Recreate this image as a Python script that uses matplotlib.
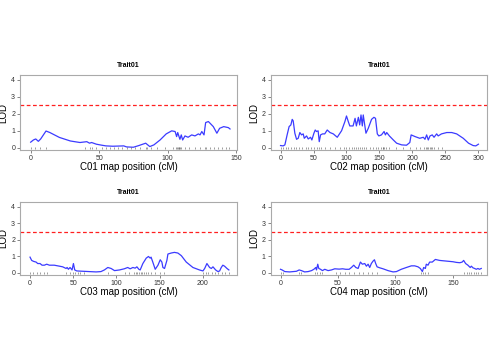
import numpy as np
import matplotlib
matplotlib.use("Agg")
import matplotlib.pyplot as plt
import matplotlib.transforms as mtransforms

plt.rcParams['font.family'] = ['Liberation Sans', 'DejaVu Sans']

threshold = 2.5
trait = "Trait01"

# C01
c01_pos = [0, 2, 3.7, 5.6, 7.3, 11.2, 14, 21, 29, 36, 41, 43, 44.5, 48, 52, 55, 60, 68, 70, 75, 79,
           84, 87, 90, 94.5, 99, 103, 105.5, 106.6, 107.4, 109, 110, 111, 112.7, 115, 117.6, 120,
           122.5, 123.7, 125, 126.6, 127.8, 129.8, 131.5, 133.4, 136, 138, 141, 144.4, 145.6]
c01_lod = [0.32, 0.45, 0.51, 0.37, 0.51, 0.98, 0.89, 0.6, 0.39, 0.3, 0.35, 0.26, 0.3, 0.2, 0.14, 0.1,
           0.08, 0.1, 0.04, 0.02, 0.12, 0.26, 0.06, 0.16, 0.45, 0.81, 0.99, 0.95, 0.65, 0.89, 0.49,
           0.75, 0.45, 0.69, 0.61, 0.75, 0.69, 0.81, 0.75, 0.95, 0.75, 1.48, 1.54, 1.4, 1.24, 0.85,
           1.14, 1.24, 1.18, 1.1]
c01_markers = [0, 3, 7, 11, 40, 43, 45, 48, 52, 55, 58, 61, 64, 67, 70, 73, 76, 80, 84, 85, 88, 92,
               98, 104, 106, 107, 107.5, 108, 108.5, 109, 110, 113, 116, 120, 124, 127, 128, 131,
               134, 137, 140, 143, 145]

# C02
c02_pos = [0, 4, 6.6, 10, 13, 15.7, 17.7, 19.2, 21.7, 24.3, 26.8, 29.3, 31.9, 34.4, 36, 39.5, 42,
           45.5, 47.5, 50.6, 52.6, 54.6, 57, 58.7, 60.7, 63.7, 67, 70.8, 75, 80, 86, 92.6, 97.6,
           100, 102.7, 105, 110, 113, 115, 118, 120, 122, 124, 125.4, 128, 129.5, 133, 138, 141.6,
           144, 146.7, 149, 153, 157, 159, 161, 165, 171, 176, 183.6, 191, 196, 198, 204, 211,
           216.5, 219, 221.5, 224, 226.6, 230, 232.7, 236.7, 239, 244, 252, 259.5, 267, 277, 285,
           292, 296, 300]
c02_lod = [0.12, 0.1, 0.16, 0.75, 1.24, 1.34, 1.67, 1.58, 0.85, 0.49, 0.55, 0.89, 0.75, 0.81, 0.55,
           0.69, 0.51, 0.61, 0.45, 0.85, 1.04, 0.95, 0.99, 0.35, 0.75, 0.81, 0.81, 1.04, 0.89, 0.81,
           0.61, 1.0, 1.54, 1.87, 1.54, 1.28, 1.28, 1.73, 1.28, 1.79, 1.34, 1.93, 1.28, 1.93, 1.24,
           0.85, 1.14, 1.67, 1.79, 1.73, 0.81, 0.69, 0.75, 0.95, 0.75, 0.89, 0.69, 0.45, 0.26, 0.16,
           0.14, 0.3, 0.75, 0.65, 0.55, 0.61, 0.49, 0.75, 0.45, 0.69, 0.75, 0.61, 0.81, 0.69, 0.81,
           0.89, 0.89, 0.81, 0.55, 0.26, 0.12, 0.1, 0.2]
c02_markers = [0, 4, 8, 12, 16, 20, 24, 28, 33, 38, 42, 46, 50, 55, 58, 62, 68, 75, 82, 90, 96, 100,
               104, 108, 112, 115, 118, 121, 124, 126, 130, 135, 140, 144, 148, 152, 155, 156, 157,
               160, 165, 175, 185, 196, 205, 212, 218, 220, 222, 224, 226, 228, 230, 233, 238, 245]

# C03
c03_pos = [0, 1.9, 4.2, 7, 8.9, 11.6, 13.9, 16.6, 19.3, 22.4, 28, 34, 37.8, 41.7, 42.9, 44.4, 46.3,
           48.6, 50.2, 51.7, 54, 61, 68.7, 76.4, 82, 86, 90, 93.8, 97.7, 103.5, 109, 113, 115.8,
           119, 121.6, 123.6, 125.9, 127.4, 130.5, 134.4, 137, 139, 140, 142, 144.8, 148, 150.6,
           152.5, 153.7, 155.6, 158.3, 159.5, 163.3, 167, 171, 175, 180.7, 188.4, 196, 200, 202,
           204.6, 207.7, 209.7, 211.6, 214.7, 217.4, 219.3, 221.2, 223, 225, 227.8, 230]
c03_lod = [0.94, 0.74, 0.68, 0.64, 0.55, 0.55, 0.45, 0.45, 0.51, 0.45, 0.45, 0.39, 0.35, 0.25, 0.31,
           0.2, 0.31, 0.16, 0.55, 0.16, 0.1, 0.08, 0.06, 0.04, 0.06, 0.16, 0.31, 0.25, 0.12, 0.16,
           0.23, 0.31, 0.23, 0.31, 0.27, 0.35, 0.2, 0.16, 0.55, 0.88, 0.98, 0.88, 0.94, 0.64, 0.2,
           0.45, 0.78, 0.64, 0.31, 0.25, 0.74, 1.13, 1.19, 1.23, 1.19, 1.03, 0.64, 0.31, 0.16, 0.1,
           0.25, 0.55, 0.31, 0.25, 0.35, 0.16, 0.06, 0.1, 0.31, 0.45, 0.39, 0.25, 0.16]
c03_markers = [0, 3, 8, 12, 16, 20, 42, 46, 50, 52, 55, 58, 62, 90, 110, 115, 120, 122, 124, 126,
               128, 130, 132, 134, 136, 140, 145, 150, 155, 200, 203, 206, 210, 214, 218, 222, 226, 230]

# C04
c04_pos = [0, 1.4, 3.8, 8, 13.9, 16.2, 18.2, 21, 24, 27, 29, 30.7, 31.3, 32.4, 33.3, 34.8, 36.5,
           38.5, 41.4, 44.3, 47.2, 51, 54, 56.8, 59.7, 61.7, 63.7, 65.5, 67.5, 69.5, 71.2, 73.3,
           74.7, 76.2, 77.6, 79, 80.5, 81.7, 82.8, 84, 86.3, 89.2, 93.5, 97.9, 100.8, 105, 109.5,
           113.8, 116.7, 119.6, 121.6, 123.4, 124.5, 126, 126.8, 128.3, 129.7, 132, 134.7, 138.4,
           144.2, 150, 153, 156, 158, 159.3, 161, 163, 165, 166, 167.4, 168.8, 170.3, 171.7, 173,
           174.6]
c04_lod = [0.2, 0.16, 0.06, 0.04, 0.08, 0.16, 0.12, 0.04, 0.06, 0.12, 0.2, 0.31, 0.16, 0.51, 0.25,
           0.2, 0.12, 0.2, 0.12, 0.16, 0.23, 0.21, 0.23, 0.2, 0.2, 0.31, 0.45, 0.31, 0.25, 0.64,
           0.51, 0.55, 0.39, 0.51, 0.31, 0.55, 0.7, 0.78, 0.55, 0.35, 0.29, 0.23, 0.12, 0.04, 0.06,
           0.2, 0.31, 0.41, 0.41, 0.35, 0.25, 0.06, 0.31, 0.25, 0.51, 0.45, 0.64, 0.64, 0.8, 0.74,
           0.7, 0.66, 0.62, 0.6, 0.64, 0.74, 0.55, 0.45, 0.31, 0.39, 0.29, 0.25, 0.2, 0.25, 0.2, 0.25]
c04_markers = [0, 2, 16, 18, 30, 32, 34, 36, 48, 52, 56, 60, 64, 68, 72, 76, 80, 84, 122, 124, 126,
               128, 160, 162, 164, 166, 168, 170, 172, 174]

chroms = ["C01", "C02", "C03", "C04"]
positions = [c01_pos, c02_pos, c03_pos, c04_pos]
lods = [c01_lod, c02_lod, c03_lod, c04_lod]
markers = [c01_markers, c02_markers, c03_markers, c04_markers]
xticks = [[0, 50, 100, 150], [0, 50, 100, 150, 200, 250, 300],
          [0, 50, 100, 150, 200], [0, 50, 100, 150]]
xlims = [(-7.8, 150.7), (-15.2, 313), (-11.6, 239.4), (-8.7, 179.6)]

fig = plt.figure(figsize=(5, 3.6), dpi=100)
boxes = [[0.040, 0.583, 0.434, 0.209], [0.541, 0.583, 0.433, 0.209],
         [0.040, 0.236, 0.434, 0.203], [0.541, 0.236, 0.433, 0.203]]

for i in range(4):
    ax = fig.add_axes(boxes[i])
    x = np.array(positions[i])
    y = np.array(lods[i])
    ax.plot(x, y, color='#3b3bff', lw=0.9)
    ax.axhline(threshold, color='#ff2020', ls=(0, (3, 2)), lw=0.9)
    trans = mtransforms.blended_transform_factory(ax.transData, ax.transAxes)
    ax.vlines(markers[i], 0.015, 0.035, transform=trans, color='#555555', lw=0.4)
    ax.set_xlim(*xlims[i])
    ax.set_ylim(-0.15, 4.3)
    ax.set_xticks(xticks[i])
    ax.set_yticks([0, 1, 2, 3, 4])
    ax.tick_params(labelsize=5, length=2, width=0.5, color='#555555', labelcolor='#333333', pad=1.5)
    for s in ax.spines.values():
        s.set_color('#aaaaaa')
        s.set_linewidth(0.8)
    ax.set_title(trait, fontsize=5, fontweight='bold', pad=6)
    ax.set_xlabel(chroms[i] + " map position (cM)", fontsize=7, labelpad=0)
    ax.set_ylabel("LOD", fontsize=7)
    ax.yaxis.set_label_coords(-0.052, 0.5)

fig.savefig("out.png", dpi=100)
